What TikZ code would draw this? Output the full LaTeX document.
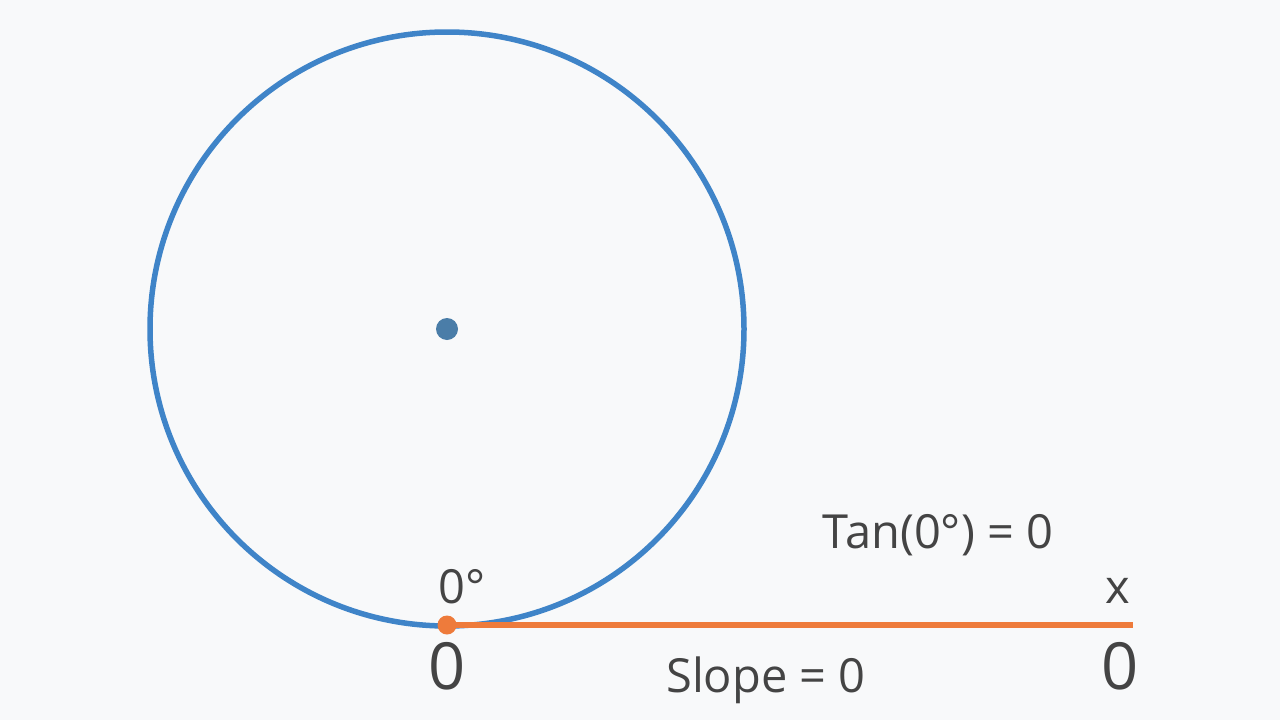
\documentclass[tikz,border=0pt]{standalone}
\usepackage{fontspec}
\setmainfont{Open Sans}
\usetikzlibrary{positioning}

\definecolor{bgcol}{HTML}{F8F9FA}
\definecolor{circblue}{HTML}{3F84C8}
\definecolor{dotblue}{HTML}{4A7DA8}
\definecolor{lineorange}{HTML}{EE7B3B}
\definecolor{txtgray}{HTML}{444444}

\begin{document}
\begin{tikzpicture}[
    x=1pt, y=-1pt,
    % --- 样式定义 ---
    circ/.style={draw=circblue, line width=5.5pt},
    tangent/.style={draw=lineorange, line width=5.5pt},
    dot/.style={circle, inner sep=0pt, minimum size=#1},
    lbl/.style={text=txtgray, anchor=base, inner sep=0pt},
    small/.style={lbl, font=\fontsize{47}{52}\selectfont},
    big/.style={lbl, font=\fontsize{65}{70}\selectfont}
]

% ==================== 背景 ====================
\fill[bgcol] (0,0) rectangle (1280,720);
\useasboundingbox (0,0) rectangle (1280,720);

% ==================== 圆与切线 ====================
\coordinate (C) at (447,329);
\draw[circ] (C) circle[radius=297];
\node[dot=22pt, fill=dotblue] (Center) at (C) {};

\coordinate (T) at (447,625);
\coordinate (XEnd) at (1133,625);
\draw[tangent] (T) -- (XEnd);
\node[dot=19pt, fill=lineorange] (Touch) at (T) {};

% ==================== 标注 ====================
\node[small] (Angle) at (462,603) {0°};
\node[big] (ZeroL) at (447,689) {0};
\node[small] (Slope) at (766,692) {Slope = 0};
\node[small] (Tan) at (938,548) {Tan(0°) = 0};
\node[small] (XLbl) at (1118,603) {x};
\node[big] (ZeroR) at (1120,689) {0};

\end{tikzpicture}
\end{document}
